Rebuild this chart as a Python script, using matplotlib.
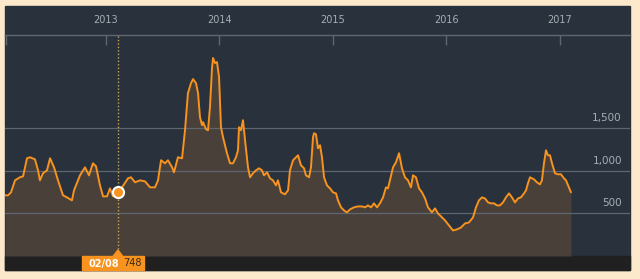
import matplotlib
matplotlib.use("Agg")
import matplotlib.pyplot as plt
from matplotlib.patches import Rectangle, Polygon
from matplotlib.transforms import Affine2D

# data (decimal year, value)
dates = [2012.110, 2012.137, 2012.163, 2012.198, 2012.242, 2012.269, 2012.304, 2012.330,
         2012.374, 2012.401, 2012.418, 2012.445, 2012.480, 2012.507, 2012.542, 2012.577,
         2012.621, 2012.656, 2012.700, 2012.718, 2012.771, 2012.815, 2012.850, 2012.885,
         2012.912, 2012.947, 2012.974, 2013.009, 2013.035, 2013.062, 2013.105, 2013.141,
         2013.194, 2013.220, 2013.256, 2013.300, 2013.344, 2013.388, 2013.432, 2013.458,
         2013.485, 2013.520, 2013.546, 2013.582, 2013.599, 2013.634, 2013.670, 2013.696,
         2013.722, 2013.749, 2013.767, 2013.793, 2013.811, 2013.828, 2013.846, 2013.855,
         2013.881, 2013.899, 2013.916, 2013.934, 2013.943, 2013.960, 2013.978, 2013.996,
         2014.013, 2014.031, 2014.066, 2014.093, 2014.119, 2014.145, 2014.163, 2014.172,
         2014.189, 2014.207, 2014.225, 2014.251, 2014.269, 2014.295, 2014.322, 2014.348,
         2014.374, 2014.392, 2014.419, 2014.445, 2014.471, 2014.498, 2014.515, 2014.542,
         2014.577, 2014.604, 2014.621, 2014.648, 2014.692, 2014.718, 2014.745, 2014.762,
         2014.789, 2014.806, 2014.824, 2014.833, 2014.850, 2014.868, 2014.886, 2014.903,
         2014.921, 2014.947, 2014.974, 2015.000, 2015.027, 2015.044, 2015.071, 2015.097,
         2015.123, 2015.150, 2015.185, 2015.220, 2015.256, 2015.282, 2015.308, 2015.335,
         2015.361, 2015.388, 2015.414, 2015.441, 2015.467, 2015.485, 2015.502, 2015.529,
         2015.555, 2015.582, 2015.608, 2015.634, 2015.661, 2015.687, 2015.705, 2015.731,
         2015.758, 2015.784, 2015.811, 2015.837, 2015.872, 2015.899, 2015.925, 2015.960,
         2015.987, 2016.022, 2016.057, 2016.093, 2016.128, 2016.163, 2016.198, 2016.234,
         2016.260, 2016.286, 2016.313, 2016.339, 2016.366, 2016.392, 2016.419, 2016.445,
         2016.471, 2016.498, 2016.524, 2016.551, 2016.577, 2016.604, 2016.630, 2016.656,
         2016.683, 2016.701, 2016.718, 2016.736, 2016.753, 2016.771, 2016.797, 2016.824,
         2016.841, 2016.859, 2016.877, 2016.894, 2016.912, 2016.930, 2016.956, 2016.982,
         2017.009, 2017.035, 2017.053, 2017.071, 2017.097]
values = [712, 712, 747, 888, 924, 935, 1147, 1159,
          1135, 1006, 888, 971, 1006, 1147, 1041, 888,
          712, 688, 653, 771, 947, 1041, 947, 1088,
          1053, 829, 700, 700, 794, 700, 748, 806,
          912, 924, 865, 888, 876, 806, 806, 888,
          1124, 1088, 1124, 1041, 982, 1159, 1147, 1476,
          1912, 2029, 2076, 2029, 1912, 1629, 1535, 1571,
          1488, 1476, 1747, 2206, 2324, 2265, 2276, 2100,
          1512, 1394, 1206, 1088, 1088, 1159, 1241, 1512,
          1476, 1594, 1359, 1041, 924, 971, 1006, 1029,
          1006, 947, 982, 912, 888, 829, 888, 747,
          724, 771, 1006, 1124, 1182, 1065, 1029, 947,
          924, 1041, 1394, 1441, 1429, 1265, 1300, 1159,
          924, 829, 794, 747, 735, 653, 571, 535,
          512, 547, 571, 582, 582, 571, 594, 571,
          618, 571, 618, 688, 806, 794, 888, 1041,
          1100, 1206, 1029, 924, 888, 806, 947, 924,
          794, 747, 676, 571, 512, 559, 500, 453,
          418, 359, 300, 312, 335, 382, 394, 453,
          571, 653, 688, 676, 629, 618, 618, 594,
          594, 629, 688, 735, 688, 629, 676, 688,
          735, 771, 853, 924, 912, 900, 865, 841,
          888, 1088, 1241, 1182, 1182, 1088, 971, 959,
          959, 912, 888, 829, 747]

years = [2013, 2014, 2015, 2016, 2017]
y_ticks = [500, 1000, 1500]
y_labels = ["500", "1,000", "1,500"]
cursor_date = 2013.105
cursor_value = 748
cursor_text = "02/08"

W, H = 640, 279
cream = "#fce8cb"
panel = "#28313c"
fill_col = "#4a403a"
orange = "#f7931e"
grid_col = "#5d6671"
text_col = "#a9aeb4"

fig = plt.figure(figsize=(W / 100, H / 100), dpi=100, facecolor=cream)
px = Affine2D().scale(1 / W, -1 / H).translate(0, 1) + fig.transFigure

# dark panel and bottom strip
fig.patches.append(Rectangle((5, 6), 625, 264, transform=px, color=panel, zorder=-2))
fig.patches.append(Rectangle((5, 256), 625, 14, transform=px, color="#202020", zorder=-1))

ax = fig.add_axes([5 / W, (H - 256) / H, 625 / W, (256 - 35) / H])
ax.set_zorder(1)
ax.set_facecolor("none")
ax.set_xlim(2012.110, 2017.617)
ax.set_ylim(0, 2594)

ax.fill_between(dates, values, 0, color=fill_col, lw=0, zorder=1)
for v in y_ticks:
    ax.axhline(v, color=grid_col, lw=0.9, zorder=2)
ax.plot(dates, values, color=orange, lw=1.4, zorder=3,
        solid_joinstyle="round", solid_capstyle="round")

for v, lab in zip(y_ticks, y_labels):
    ax.annotate(lab, xy=(0.987, v), xycoords=("axes fraction", "data"),
                xytext=(0, 5), textcoords="offset pixels",
                ha="right", va="bottom", fontsize=7.5, color=text_col)

# top axis
for s in ["left", "right", "bottom"]:
    ax.spines[s].set_visible(False)
ax.spines["top"].set_color(grid_col)
ax.spines["top"].set_linewidth(1)
ax.xaxis.tick_top()
ax.set_xticks(years)
ax.set_xticklabels([str(y) for y in years])
ax.set_xticks([2012.115], minor=True)
ax.tick_params(axis="x", which="both", direction="in", length=7.5, width=1,
               color=grid_col, labelsize=7, labelcolor=text_col, pad=7)
ax.set_yticks([])

# cursor
ax.axvline(cursor_date, color="#c9a35a", lw=1, ls=(0, (1, 1.5)), zorder=4)
ax.plot([cursor_date], [cursor_value], "o", ms=8, mfc=orange, mec="white", mew=1.5,
        zorder=6, clip_on=False)

fig.canvas.draw()
cx = ax.transData.transform((cursor_date, 0))[0]
fig.patches.append(Rectangle((cx - 36, 256), 62, 14, transform=px, color=orange, zorder=6))
fig.patches.append(Polygon([(cx - 5, 256.5), (cx + 5, 256.5), (cx, 250)], closed=True,
                           transform=px, color=orange, zorder=6))
fig.text((cx - 29) / W, 1 - 263.5 / H, cursor_text, color="white", fontsize=7,
         fontweight="bold", va="center", ha="left", zorder=7)
fig.text((cx + 5) / W, 1 - 263.5 / H, str(cursor_value), color="#3a2a1a", fontsize=7,
         va="center", ha="left", zorder=7)

fig.savefig("out.png", dpi=100, facecolor=cream)
